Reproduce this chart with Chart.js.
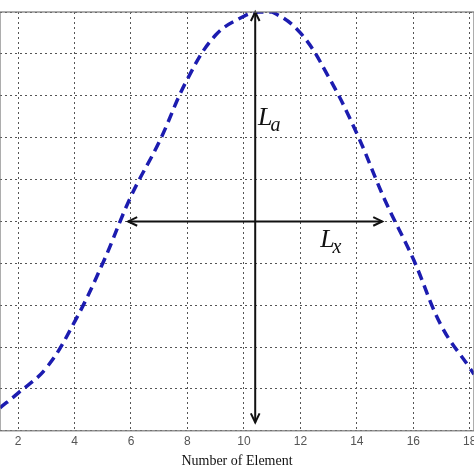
<!DOCTYPE html>
<html lang="en">
<head>
  <meta charset="UTF-8">
  <title>Number of Element</title>
  <script src="https://cdn.jsdelivr.net/npm/chart.js"></script>
  <style>
    html, body { margin: 0; padding: 0; background: #fff; }
    #wrap { width: 474px; height: 474px; }
  </style>
</head>
<body>
  <div id="wrap"><canvas id="chart"></canvas></div>
  <script>
    const elements = [1.36, 2, 3, 4, 5, 6, 7, 8, 9, 10, 10.5, 11, 12, 13, 14, 15, 16, 17, 18, 18.15];
    const amplitude = [0.55, 0.9, 1.5, 2.6, 4.0, 5.6, 6.9, 8.4, 9.45, 9.9, 10, 10, 9.5, 8.45, 7.1, 5.5, 4.1, 2.5, 1.5, 1.35];
    const xTicks = [2, 4, 6, 8, 10, 12, 14, 16, 18];

    // arrows: [x1, y1, x2, y2] in data units, heads at both ends
    const arrows = [
      [10.4, 10, 10.4, 0.2],
      [5.9, 5, 14.9, 5]
    ];
    const arrowLabels = [
      { main: "L", sub: "a", x: 10.5, y: 7.3 },
      { main: "L", sub: "x", x: 12.7, y: 4.4 }
    ];

    const arrowPlugin = {
      id: "arrows",
      afterDatasetsDraw(chart) {
        const { ctx, scales: { x, y }, chartArea: a } = chart;
        ctx.save();
        ctx.strokeStyle = "#111";
        ctx.fillStyle = "#111";
        ctx.lineWidth = 2;
        const head = (px, py, ang) => {
          ctx.beginPath();
          ctx.moveTo(px - 10 * Math.cos(ang - 0.45), py - 10 * Math.sin(ang - 0.45));
          ctx.lineTo(px, py);
          ctx.lineTo(px - 10 * Math.cos(ang + 0.45), py - 10 * Math.sin(ang + 0.45));
          ctx.stroke();
        };
        arrows.forEach(([x1, y1, x2, y2]) => {
          const p1 = [x.getPixelForValue(x1), y.getPixelForValue(y1)];
          const p2 = [x.getPixelForValue(x2), y.getPixelForValue(y2)];
          ctx.beginPath();
          ctx.moveTo(p1[0], p1[1]);
          ctx.lineTo(p2[0], p2[1]);
          ctx.stroke();
          const ang = Math.atan2(p2[1] - p1[1], p2[0] - p1[0]);
          head(p2[0], p2[1], ang);
          head(p1[0], p1[1], ang + Math.PI);
        });
        arrowLabels.forEach(l => {
          const px = x.getPixelForValue(l.x), py = y.getPixelForValue(l.y);
          ctx.font = "italic 26px 'Liberation Serif'";
          ctx.textBaseline = "alphabetic";
          ctx.fillText(l.main, px, py);
          const w = ctx.measureText(l.main).width;
          ctx.font = "italic 20px 'Liberation Serif'";
          ctx.fillText(l.sub, px + w - 2, py + 6);
        });
        // frame
        ctx.strokeStyle = "#777";
        ctx.lineWidth = 1.2;
        ctx.strokeRect(a.left, a.top, a.right - a.left, a.bottom - a.top);
        ctx.restore();
      }
    };

    new Chart(document.getElementById("chart"), {
      type: "line",
      data: {
        datasets: [{
          data: elements.map((e, i) => ({ x: e, y: amplitude[i] })),
          borderColor: "#1c1cb0",
          borderWidth: 3.5,
          borderDash: [10, 6],
          pointRadius: 0,
          tension: 0.4,
          fill: false
        }]
      },
      options: {
        responsive: true,
        maintainAspectRatio: false,
        animation: false,
        layout: { padding: { top: 12, left: 0, right: 0, bottom: 0 } },
        plugins: { legend: { display: false }, tooltip: { enabled: false } },
        scales: {
          x: {
            type: "linear",
            min: 1.36,
            max: 18.15,
            afterBuildTicks: s => { s.ticks = xTicks.map(v => ({ value: v })); },
            afterFit: s => { s.paddingLeft = 0; s.paddingRight = 0; },
            grid: { color: "#555", drawTicks: false, lineWidth: 1 },
            border: { display: false, dash: [2, 3] },
            ticks: { color: "#555", font: { family: "Arial", size: 12 }, padding: 4, maxRotation: 0 },
            title: { display: true, text: "Number of Element", color: "#111",
                     font: { family: "Liberation Serif", size: 14 }, padding: { top: 0, bottom: 4 } }
          },
          y: {
            min: 0,
            max: 10,
            display: true,
            ticks: { display: false, stepSize: 1 },
            grid: { color: "#555", drawTicks: false, lineWidth: 1 },
            border: { display: false, dash: [2, 3] }
          }
        }
      },
      plugins: [arrowPlugin]
    });
  </script>
</body>
</html>
